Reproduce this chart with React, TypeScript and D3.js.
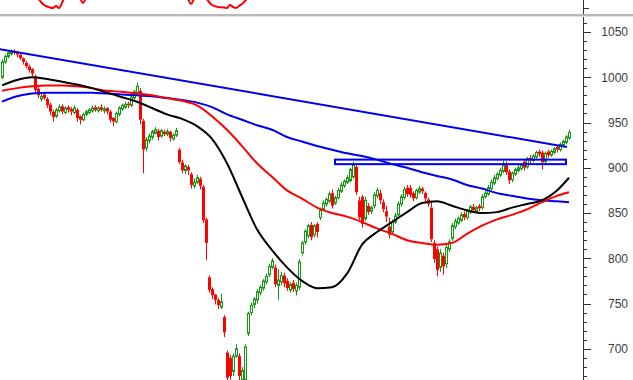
import React from "react";
import * as d3 from "d3";

// OHLC candles [open, high, low, close]
const candles: [number, number, number, number][] = [
  [1000,1020,998,1017],[1017,1025,1015,1023],[1023,1030,1021,1027],[1026,1031,1024,1028],[1029,1031,1025,1027],
  [1028,1029,1022,1025],[1025,1026,1019,1021],[1021,1022,1014,1017],[1016,1018,1010,1012],[1012,1014,1005,1008],
  [1009,1010,1001,1004],[1001,1003,983,986],[987,989,977,980],[976,982,973,979],[981,984,975,977],
  [976,978,966,969],[970,972,958,962],[962,964,951,956],[957,966,955,964],[963,970,961,967],
  [968,970,959,962],[961,968,959,966],[967,969,961,964],[965,967,958,962],[961,969,959,966],
  [964,966,951,955],[957,958,948,953],[953,961,951,959],[959,964,957,962],[961,966,959,964],
  [963,969,961,966],[967,969,962,964],[963,968,961,966],[967,970,962,964],[963,968,960,965],
  [966,967,959,962],[962,964,950,953],[955,956,946,951],[951,962,949,960],[959,968,957,966],
  [965,971,963,969],[967,973,965,970],[971,973,966,969],[969,980,967,978],[977,986,975,984],
  [983,994,981,990],[985,988,948,953],[952,954,894,920],[922,934,918,931],[930,938,927,935],
  [934,942,931,940],[938,945,937,942],[941,943,930,934],[935,943,933,941],[940,942,935,937],
  [937,943,935,940],[940,941,929,933],[932,938,930,936],[936,944,934,941],[920,922,904,906],
  [906,909,894,897],[897,904,893,902],[901,903,892,897],[893,895,877,881],[880,888,877,884],
  [884,892,882,889],[888,890,876,880],[879,881,839,842],[843,845,798,817],[779,781,762,765],
  [766,768,755,759],[760,761,749,754],[754,756,744,748],[746,761,744,752],[735,737,713,718],
  [696,698,664,668],[690,693,666,670],[675,695,670,692],[692,705,690,700],[692,695,662,670],
  [665,680,660,676],[666,705,662,702],[717,741,714,739],[740,751,737,748],[749,757,745,755],
  [754,766,750,763],[762,770,759,768],[767,777,764,775],[774,783,771,780],[782,794,779,791],
  [790,800,788,797],[790,793,768,771],[770,788,754,776],[774,785,770,781],[781,784,768,772],
  [775,778,764,767],[765,774,762,771],[773,776,763,766],[764,773,759,770],[768,799,765,796],
  [806,819,803,817],[818,832,815,830],[825,838,822,836],[837,840,820,823],[826,838,823,836],
  [838,840,823,829],[845,856,842,853],[854,864,852,861],[860,867,857,865],[863,874,861,871],
  [872,876,855,858],[861,869,859,867],[867,878,865,875],[874,884,872,881],[880,887,878,885],
  [884,892,882,889],[886,900,884,898],[890,907,888,903],[901,904,870,873],[864,868,842,845],
  [868,870,834,838],[844,868,841,864],[858,861,848,851],[852,858,849,856],[858,873,855,870],
  [869,878,866,875],[872,876,860,864],[862,865,851,854],[852,858,840,846],[835,845,822,826],
  [829,843,826,840],[840,850,838,847],[848,863,846,860],[860,871,857,868],[867,879,865,876],
  [878,881,868,871],[878,881,867,870],[872,874,863,866],[867,877,865,875],[873,880,871,877],
  [877,879,871,874],[872,874,863,866],[865,867,857,860],[856,863,818,821],[817,820,795,799],
  [810,813,780,787],[790,810,785,806],[803,806,782,791],[794,815,789,812],[810,821,807,818],
  [822,839,819,836],[835,844,832,841],[839,846,837,844],[842,851,840,848],[849,852,842,845],
  [845,854,843,852],[851,859,849,857],[857,860,851,853],[852,858,850,856],[858,860,852,855],
  [856,871,854,868],[868,875,866,872],[871,881,869,878],[877,887,875,884],[883,892,881,889],
  [888,895,886,893],[892,900,890,897],[896,908,894,903],[903,907,892,895],[896,898,882,886],
  [887,896,884,894],[893,900,891,898],[897,903,895,900],[899,905,897,903],[907,909,897,900],
  [901,912,899,910],[911,914,905,908],[908,915,906,913],[912,919,910,917],[918,920,912,915],
  [917,919,898,906],[907,918,904,916],[918,920,911,914],[914,920,912,918],[917,923,915,921],
  [923,925,917,920],[920,928,918,926],[925,931,923,929],[928,936,926,934],[933,942,931,939],
];

// moving averages sampled at candle indices
const maIdx = [0,5,10,15,20,25,30,35,40,45,50,55,60,65,70,75,80,85,90,95,100,105,110,115,120,125,130,135,140,145,150,155,160,165,170,175,180,185,189];
const fastMA = [991,997,1000,998,995,992,988,983,978,973,966,959,954,946,932,905,868,832,809,790,775,767,768,783,815,829,840,851,861,863,858,853,850,851,856,860,864,875,889];
const midMA = [985,988,990,991,991,990,988,985,984,982,980,977,974,969,957,942,924,905,890,875,866,856,850,846,840,833,827,820,817,815,817,827,836,843,848,854,862,869,873];
const slowMA = [973,979,982,983,983,983,983,982,981,980,979,977,975,972,967,959,953,947,942,934,929,924,920,916,913,909,904,900,895,891,887,881,877,872,869,866,864,863,862];

// trend line and horizontal zone
const trendIdx = [-0.7, 188.3];
const trendVal = [1031, 923];
const zoneIdx = [111, 188];
const zoneVal = [909, 904];

// upper panel oscillator (mostly off-view)
const oscIdx = [0,8,12,13,14,15,16,17,18,19,20,21,24,26,27,28,31,50,60,62,63,64,66,68,69,70,72,74,75,76,77,78,79,80,81,83,90,189];
const oscVal = [60,55,42,38,35,33.5,32.5,32,34,32,37,44,52,42,37,42,55,60,50,41,36,41,50,42,38,35,33,32.5,32,35,33,32,34,36,39,47,60,60];
const oscTickVals = [32];

const yTicks = d3.range(660, 1070, 10);
const yLabels = [700, 750, 800, 850, 900, 950, 1000, 1050];

const W = 633, H = 380;
const AXIS_X = 583;
const GREEN = "#109a10";
const RED = "#ff0000";
const BLUE = "#0000f0";

export default function App() {
  const x = d3.scaleLinear().domain([0, candles.length - 1]).range([2, 569]);
  const y = d3.scaleLinear().domain([700, 1050]).range([348.8, 32]);
  const yOsc = d3.scaleLinear().domain([30, 40]).range([10, 0]);

  const maLine = d3.line<number>().x((_, i) => x(maIdx[i])).y((d) => y(d)).curve(d3.curveMonotoneX);
  const oscLine = d3.line<number>().x((_, i) => x(oscIdx[i])).y((d) => yOsc(d)).curve(d3.curveMonotoneX);

  const zx0 = x(zoneIdx[0]), zx1 = x(zoneIdx[1]);
  const zy0 = y(zoneVal[0]), zy1 = y(zoneVal[1]);

  return (
    <svg width={W} height={H} style={{ position: "absolute", left: 0, top: 0, background: "#fff" }}
      fontFamily="'Liberation Sans', Arial, sans-serif">
      <defs>
        <clipPath id="plot"><rect x={0} y={17} width={AXIS_X} height={H - 17} /></clipPath>
        <clipPath id="osc"><rect x={0} y={0} width={AXIS_X} height={13} /></clipPath>
      </defs>
      <rect x={0} y={0} width={W} height={H} fill="#fff" />

      {/* oscillator panel */}
      <g clipPath="url(#osc)">
        <path d={oscLine(oscVal) || ""} fill="none" stroke={RED} strokeWidth={2} />
      </g>

      <g clipPath="url(#plot)">
        {/* candles */}
        {candles.map(([o, h, l, c], i) => {
          const cx = Math.round(x(i));
          const up = c >= o;
          const top = y(Math.max(o, c));
          const bot = y(Math.min(o, c));
          const col = up ? GREEN : RED;
          return (
            <g key={i}>
              <rect x={cx} y={y(h)} width={1} height={Math.max(0, top - y(h))} fill={col} />
              <rect x={cx} y={bot} width={1} height={Math.max(0, y(l) - bot)} fill={col} />
              {up ? (
                <rect x={cx - 0.5} y={top} width={2} height={Math.max(1, bot - top)} fill="#fff" stroke={col} strokeWidth={1} />
              ) : (
                <rect x={cx - 1} y={top} width={3} height={Math.max(1, bot - top)} fill={col} />
              )}
            </g>
          );
        })}

        {/* moving averages */}
        <path d={maLine(slowMA) || ""} fill="none" stroke={BLUE} strokeWidth={2} />
        <path d={maLine(midMA) || ""} fill="none" stroke={RED} strokeWidth={2} />
        <path d={maLine(fastMA) || ""} fill="none" stroke="#000" strokeWidth={2} />

        {/* trend line */}
        <line x1={x(trendIdx[0])} y1={y(trendVal[0])} x2={x(trendIdx[1])} y2={y(trendVal[1])} stroke={BLUE} strokeWidth={2} />
        {/* zone */}
        <rect x={zx0} y={zy0} width={zx1 - zx0} height={zy1 - zy0} fill="none" stroke={BLUE} strokeWidth={2} />
      </g>

      {/* right axis */}
      <line x1={AXIS_X + 0.5} y1={0} x2={AXIS_X + 0.5} y2={H} stroke="#333" strokeWidth={1} />
      {oscTickVals.map((v) => (
        <line key={"o" + v} x1={AXIS_X} x2={AXIS_X + 6} y1={Math.round(yOsc(v)) + 0.5} y2={Math.round(yOsc(v)) + 0.5} stroke="#333" />
      ))}
      {yTicks.map((v) => {
        const yy = Math.round(y(v)) + 0.5;
        if (yy < 18 || yy > H) return null;
        const major = v % 50 === 0;
        return <line key={v} x1={AXIS_X} x2={AXIS_X + (major ? 8 : 4)} y1={yy} y2={yy} stroke="#333" strokeWidth={1} />;
      })}
      {yLabels.map((v) => (
        <text key={v} x={628} y={y(v)} dy="0.36em" textAnchor="end" fontSize={12} fill="#3c3c3c">{v}</text>
      ))}

      {/* panel separator */}
      <rect x={0} y={14} width={W} height={2} fill="#b8b8b8" />
      <rect x={0} y={16} width={W} height={1} fill="#e4e4e4" />
    </svg>
  );
}
